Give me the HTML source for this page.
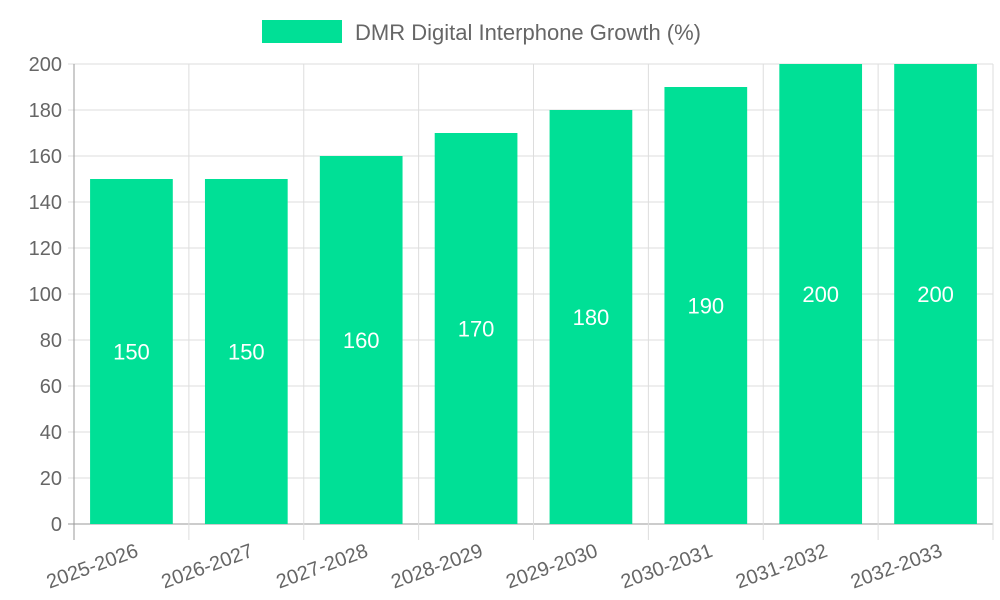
<!DOCTYPE html>
<html><head><meta charset="utf-8"><style>
html,body{margin:0;padding:0;background:#fff;}
svg{display:block;font-family:"Liberation Sans",sans-serif;}
</style></head><body>
<svg id="chart" width="1000" height="600">
<g id="legend">
<rect x="262" y="20" width="80" height="23" fill="#00e096"></rect>
<text x="355" y="40" font-size="22" fill="#666">DMR Digital Interphone Growth (%)</text>
</g>
<g id="grid"></g><g id="bars"></g><g id="axes"></g>
</svg>
<script>
const categories = ["2025-2026","2026-2027","2027-2028","2028-2029","2029-2030","2030-2031","2031-2032","2032-2033"];
const values = [150,150,160,170,180,190,200,200];
const yTicks = [0,20,40,60,80,100,120,140,160,180,200];
const L=74,R=993,T=64,B=524,yMax=200;
const ns="http://www.w3.org/2000/svg";
const step=(R-L)/categories.length;
const y=v=>B-(v/yMax)*(B-T);
const xc=i=>L+step*(i+0.5);
function mk(tag,attrs,parent,text){const e=document.createElementNS(ns,tag);for(const k in attrs)e.setAttribute(k,attrs[k]);if(text!==undefined)e.textContent=text;parent.appendChild(e);return e;}
const grid=document.getElementById('grid'),bars=document.getElementById('bars'),axes=document.getElementById('axes');
yTicks.forEach(t=>{
  const l=mk('line',{x1:L-6,x2:R,y1:y(t),y2:y(t),stroke:t===0?'#999':'#ddd','stroke-width':1},grid);
  
  
  const tx=mk('text',{x:L-12,y:y(t)+7,'text-anchor':'end','font-size':20,fill:'#666'},axes,String(t));
  
  
});
for(let i=0;i<=categories.length;i++){
  const x=L+step*i;
  const l=mk('line',{x1:x,x2:x,y1:T,y2:B+16,stroke:i===0?'#999':'#ddd','stroke-width':1},grid);
  
  
}
const bw=step*0.72;
categories.forEach((c,i)=>{
  const v=values[i];
  const r=mk('rect',{x:xc(i)-bw/2,y:y(v),width:bw,height:B-y(v),fill:'#00e096'},bars);
  
  
  const t=mk('text',{x:xc(i),y:(y(v)+B)/2+8,'text-anchor':'middle','font-size':22,fill:'#fff'},bars,String(v));
  
  
  const xl=mk('text',{x:xc(i)+8,y:B+32,'text-anchor':'end','font-size':20,fill:'#666',transform:`rotate(-20 ${xc(i)+8} ${B+32})`},axes,c);
  
  
});
</script>
</body></html>
